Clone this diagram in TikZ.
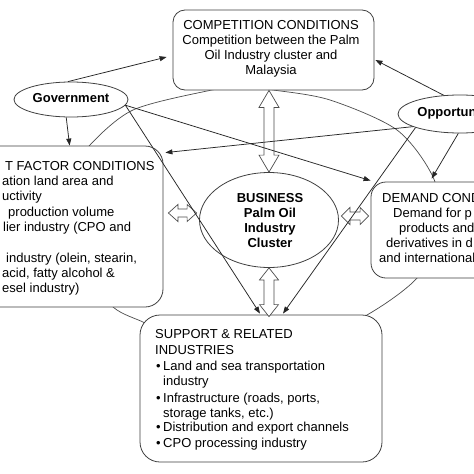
\documentclass[tikz,border=0pt]{standalone}
\usepackage{fontspec}
\setmainfont{Liberation Sans}
\usetikzlibrary{arrows.meta,calc,shapes.geometric}
\newcommand\hollowv[5]{%
  \draw[hollow] let \p1=(#1), \p2=(#2) in
    (\x1,\y1) -- (\x1+#4pt,\y1-#3pt) -- (\x1+#5pt,\y1-#3pt) -- (\x1+#5pt,\y2+#3pt)
    -- (\x1+#4pt,\y2+#3pt) -- (\x1,\y2) -- (\x1-#4pt,\y2+#3pt) -- (\x1-#5pt,\y2+#3pt)
    -- (\x1-#5pt,\y1-#3pt) -- (\x1-#4pt,\y1-#3pt) -- cycle;}
\newcommand\hollowh[5]{%
  \draw[hollow] let \p1=(#1), \p2=(#2) in
    (\x1,\y1) -- (\x1+#3pt,\y1+#4pt) -- (\x1+#3pt,\y1+#5pt) -- (\x2-#3pt,\y1+#5pt)
    -- (\x2-#3pt,\y1+#4pt) -- (\x2,\y1) -- (\x2-#3pt,\y1-#4pt) -- (\x2-#3pt,\y1-#5pt)
    -- (\x1+#3pt,\y1-#5pt) -- (\x1+#3pt,\y1-#4pt) -- cycle;}
\newcommand\bul{\makebox[7pt][l]{•}}
\begin{document}
\begin{tikzpicture}[x=1pt,y=-1pt,
  font=\fontsize{13}{15}\selectfont,
  rbox/.style={rectangle, draw=black!75, line width=0.8pt, fill=white, rounded corners=#1, inner sep=0pt},
  oval/.style={ellipse, draw=black!75, line width=0.8pt, fill=white, inner sep=0pt,
    font=\fontsize{13}{15}\selectfont\bfseries, text height=9.5pt, text depth=4.5pt},
  lbl/.style={anchor=base west, inner sep=0pt},
  clbl/.style={anchor=base, inner sep=0pt},
  blbl/.style={anchor=base, inner sep=0pt, font=\fontsize{13}{15}\selectfont\bfseries},
  conn/.style={draw=black!85, line width=0.75pt, -{Triangle[length=7pt,width=5pt]}},
  hollow/.style={draw=black!70, line width=0.7pt, fill=white},
  bigoval/.style={draw=black!70, line width=0.7pt}]
\useasboundingbox (0,0) rectangle (474,474);
\fill[white] (0,0) rectangle (474,474);
\begin{scope}
\clip (0,0) rectangle (474,474);
% background oval
\draw[bigoval] plot[smooth cycle] coordinates {(90,145) (133,110) (207,91) (240,87) (273,90)
  (330,100) (397,130) (433,177) (442,228) (418,277) (367,315) (300,345) (240,352) (180,342)
  (145,323) (113,307) (78,265) (64,215) (72,175)};
% boxes
\node[rbox=12pt, minimum width=201pt, minimum height=80pt] (comp) at (273.5,50) {};
\node[rbox=18pt, minimum width=223pt, minimum height=161pt] (fac) at (51.5,226.5) {};
\node[rbox=15pt, minimum width=169pt, minimum height=96pt] (dem) at (455.5,230) {};
\node[rbox=20pt, minimum width=242pt, minimum height=147pt] (supp) at (261,388.5) {};
% ellipses
\node[oval, minimum width=114pt, minimum height=35pt] (gov) at (71,99.5) {Government};
\node[oval, minimum width=124pt, minimum height=38pt] (opp) at (460,114) {Opportunities};
\node[oval, minimum width=139pt, minimum height=95pt] (bus) at (269,220) {};
% hollow double arrows
\hollowv{comp.south -| bus.north}{bus.north}{17}{10}{5}
\hollowv{bus.south}{$(bus.south |- supp.north)+(0,2)$}{12}{9.5}{5}
\hollowh{$(fac.east |- bus.west)+(5,-7)$}{$(bus.west)+(-2.5,-7)$}{9.5}{8.5}{4}
\hollowh{$(bus.east)+(2.5,-4)$}{$(dem.west |- bus.east)+(-2,-4)$}{8.5}{8.5}{4}
% connectors
\draw[conn] (gov.100) -- ($(comp.west)+(-6,7)$);
\draw[conn] (gov.255) -- ($(fac.north west)+(130,0)$);
\draw[conn] (gov.-6) -- ($(dem.north west)+(0,-1)$);
\draw[conn] (gov.-6) -- ($(supp.north)+(-1,-1)$);
\draw[conn] (opp.131) -- ($(comp.east)+(1,10)$);
\draw[conn] (opp.195) -- ($(fac.north east)+(2,7)$);
\draw[conn] (opp.265) -- ($(dem.north west)+(61,-3)$);
\draw[conn] (opp.197) -- ($(supp.north)+(22,-1)$);
% competition text
\node[clbl] (c1) at (271,29.5) {COMPETITION CONDITIONS};
\node[clbl] (c2) at (271,44.5) {Competition between the Palm};
\node[clbl] (c3) at (271,59.5) {Oil Industry cluster and};
\node[clbl] (c4) at (271,74.5) {Malaysia};
% business text
\node[blbl] (b1) at (270,202) {BUSINESS};
\node[blbl] (b2) at (270,217) {Palm Oil};
\node[blbl] (b3) at (270,232) {Industry};
\node[blbl] (b4) at (270,247) {Cluster};
% factor text (cut at the left edge)
\node[lbl] (f1) at (5,170) {T FACTOR CONDITIONS};
\node[lbl] (f2) at (2,185) {ation land area and};
\node[lbl] (f3) at (2,200) {uctivity};
\node[lbl] (f4) at (8,216) {production volume};
\node[lbl] (f5) at (3,231) {lier industry (CPO and};
\node[lbl] (f6) at (6,262) {industry (olein, stearin,};
\node[lbl] (f7) at (2,277) {acid, fatty alcohol \&};
\node[lbl] (f8) at (2,292) {esel industry)};
% demand text (cut at the right edge)
\node[lbl] (d1) at (382,202) {DEMAND COND};
\node[lbl] (d2) at (393,217) {Demand for p};
\node[lbl] (d3) at (399,232) {products and};
\node[lbl] (d4) at (386,247) {derivatives in d};
\node[lbl] (d5) at (379,262) {and international};
% support text
\node[lbl] (s1) at (155,338) {SUPPORT \& RELATED};
\node[lbl] (s2) at (155,354) {INDUSTRIES};
\node[lbl] (s3) at (156,370) {\bul Land and sea transportation};
\node[lbl] (s4) at (163,385) {industry};
\node[lbl] (s5) at (156,402) {\bul Infrastructure (roads, ports,};
\node[lbl] (s6) at (163,417) {storage tanks, etc.)};
\node[lbl] (s7) at (156,431.5) {\bul Distribution and export channels};
\node[lbl] (s8) at (156,447) {\bul CPO processing industry};
\end{scope}
\end{tikzpicture}
\end{document}
